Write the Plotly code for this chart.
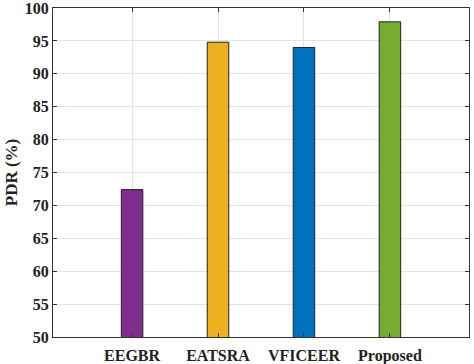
import plotly.graph_objects as go

categories = ["EEGBR", "EATSRA", "VFICEER", "Proposed"]
pdr_values = [72.4, 94.8, 94.0, 97.9]
bar_colors = ["#7E2F8E", "#EDB120", "#0072BD", "#77AC30"]
y_ticks = [50, 55, 60, 65, 70, 75, 80, 85, 90, 95, 100]

fig = go.Figure()
fig.add_trace(go.Bar(
    x=categories, y=pdr_values, width=0.25,
    marker=dict(color=bar_colors, line=dict(color="#222222", width=1)),
))

tf = dict(family="Liberation Serif", size=16, color="#222222", weight="bold")
fig.update_layout(
    width=474, height=364,
    margin=dict(l=53, r=5, t=8, b=27),
    paper_bgcolor="white", plot_bgcolor="white",
    showlegend=False,
    font=dict(family="Liberation Serif", size=16, color="#222222"),
)
fig.update_xaxes(
    range=[-0.92, 3.92], automargin=False,
    showline=True, linecolor="#333333", linewidth=1, mirror="ticks",
    ticks="inside", ticklen=4, tickcolor="#333333",
    showgrid=True, gridcolor="#E3E3E3", gridwidth=1,
    tickfont=tf, ticklabeloverflow="allow", ticklabelstandoff=4,
)
fig.update_yaxes(
    range=[50, 100], tickvals=y_ticks, automargin=False,
    showline=True, linecolor="#333333", linewidth=1, mirror="ticks",
    ticks="inside", ticklen=4, tickcolor="#333333",
    showgrid=True, gridcolor="#E3E3E3", gridwidth=1,
    zeroline=False,
    tickfont=tf, ticklabeloverflow="allow",
    title=dict(text="PDR (%)", standoff=2,
               font=dict(family="Liberation Serif", size=17, color="#222222", weight="bold")),
)
fig.write_html(
    "out.html",
    config={"displayModeBar": False},
    post_script="document.body.style.margin='0';document.body.style.overflow='hidden';",
)
